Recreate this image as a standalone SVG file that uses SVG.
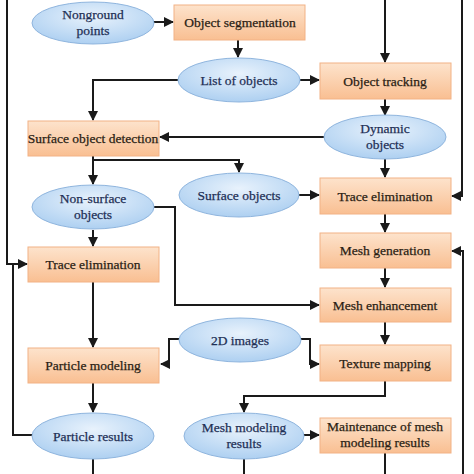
<svg xmlns="http://www.w3.org/2000/svg" width="474" height="474" viewBox="0 0 474 474">
<defs>
<linearGradient id="gr" x1="0" y1="0" x2="0" y2="1">
<stop offset="0" stop-color="#fde3cc"/>
<stop offset="1" stop-color="#f9bf92"/>
</linearGradient>
<radialGradient id="gb" cx="0.5" cy="0.35" r="0.7">
<stop offset="0" stop-color="#e8f2fc"/>
<stop offset="1" stop-color="#a9cdf0"/>
</radialGradient>
<marker id="ah" viewBox="0 0 10 10" refX="9" refY="5" markerWidth="5" markerHeight="5" orient="auto" markerUnits="strokeWidth">
<path d="M0,0 L10,5 L0,10 z" fill="#1a1a1a"/>
</marker>
<style>
rect.n { fill: url(#gr); stroke: #f2b285; stroke-width: 1; }
ellipse.n { fill: url(#gb); stroke: #8fb5de; stroke-width: 1; }
text { font-family: "Liberation Serif", "Times New Roman", serif; font-size: 13.5px; text-anchor: middle; stroke-width: 0.25; }
.tr { fill: #2a1e14; stroke: #2a1e14; }
.te { fill: #1e2f55; stroke: #1e2f55; }
.c path { fill: none; stroke: #1a1a1a; stroke-width: 2; }
.c path.a { marker-end: url(#ah); }
</style>
</defs>
<rect width="474" height="474" fill="#ffffff"/>

<g class="c" id="connectors">
<path class="a" d="M153,22 H173"/>
<path class="a" d="M238,40 V57"/>
<path class="a" d="M300,80 H319"/>
<path class="a" d="M385,0 V62"/>
<path class="a" d="M178,80 H93 V120"/>
<path class="a" d="M385,99 V115"/>
<path class="a" d="M325,137 H160"/>
<path class="a" d="M385,159 V177"/>
<path class="a" d="M93,156 V184"/>
<path class="a" d="M93,160 H239 V172"/>
<path class="a" d="M299,195 H319"/>
<path class="a" d="M462,0 V196 H452"/>
<path class="a" d="M385,214 V232"/>
<path class="a" d="M463,474 V251 H452"/>
<path class="a" d="M385,268 V287"/>
<path class="a" d="M93,230 V246"/>
<path class="a" d="M154,207 H175 V305 H319"/>
<path class="a" d="M385,322 V344"/>
<path class="a" d="M7,0 V264 H27"/>
<path d="M32,435 H13 V264"/>
<path class="a" d="M93,282 V347"/>
<path class="a" d="M179,339 H169 V364 H161"/>
<path class="a" d="M301,339 H310 V364 H319"/>
<path class="a" d="M385,381 V396 H244 V412"/>
<path class="a" d="M93,383 V412"/>
<path class="a" d="M304,435 H319"/>
<path d="M385,453 V474"/>
<path d="M244,459 V474"/>
<path d="M93,459 V474"/>
</g>

<g font-family="Liberation Serif, Times New Roman, serif">
<g id="nonground"><ellipse class="n" cx="93" cy="23" rx="61" ry="21"/><text class="te" x="93" y="19">Nonground</text><text class="te" x="93" y="35">points</text></g>
<g id="objseg"><rect class="n" x="174" y="5" width="131" height="35"/><text class="tr" x="240" y="27">Object segmentation</text></g>
<g id="listobj"><ellipse class="n" cx="239" cy="80" rx="61" ry="22"/><text class="te" x="239" y="85">List of objects</text></g>
<g id="objtrack"><rect class="n" x="320" y="63" width="131" height="36"/><text class="tr" x="385" y="86">Object tracking</text></g>
<g id="surfdet"><rect class="n" x="28" y="121" width="131" height="35"/><text class="tr" x="93" y="143">Surface object detection</text></g>
<g id="dynobj"><ellipse class="n" cx="385" cy="137" rx="61" ry="22"/><text class="te" x="385" y="133">Dynamic</text><text class="te" x="385" y="149">objects</text></g>
<g id="nonsurf"><ellipse class="n" cx="93" cy="207" rx="61" ry="22"/><text class="te" x="93" y="203">Non-surface</text><text class="te" x="93" y="219">objects</text></g>
<g id="surfobj"><ellipse class="n" cx="239" cy="195" rx="60" ry="22"/><text class="te" x="239" y="200">Surface objects</text></g>
<g id="trace2"><rect class="n" x="320" y="178" width="131" height="36"/><text class="tr" x="385" y="201">Trace elimination</text></g>
<g id="meshgen"><rect class="n" x="320" y="233" width="131" height="35"/><text class="tr" x="385" y="255">Mesh generation</text></g>
<g id="trace1"><rect class="n" x="28" y="247" width="131" height="35"/><text class="tr" x="93" y="269">Trace elimination</text></g>
<g id="meshenh"><rect class="n" x="320" y="288" width="131" height="34"/><text class="tr" x="385" y="310">Mesh enhancement</text></g>
<g id="img2d"><ellipse class="n" cx="240" cy="340" rx="61" ry="22"/><text class="te" x="240" y="345">2D images</text></g>
<g id="partmod"><rect class="n" x="28" y="348" width="131" height="35"/><text class="tr" x="93" y="370">Particle modeling</text></g>
<g id="texmap"><rect class="n" x="320" y="345" width="131" height="36"/><text class="tr" x="385" y="368">Texture mapping</text></g>
<g id="partres"><ellipse class="n" cx="93" cy="436" rx="61" ry="23"/><text class="te" x="93" y="441">Particle results</text></g>
<g id="meshres"><ellipse class="n" cx="244" cy="436" rx="60" ry="23"/><text class="te" x="244" y="432">Mesh modeling</text><text class="te" x="244" y="448">results</text></g>
<g id="maint"><rect class="n" x="320" y="418" width="131" height="35"/><text class="tr" x="385" y="431">Maintenance of mesh</text><text class="tr" x="385" y="447">modeling results</text></g>
</g>
</svg>
